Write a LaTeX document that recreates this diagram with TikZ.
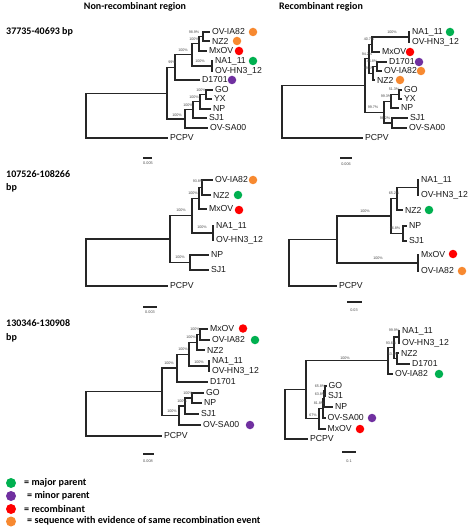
\documentclass[tikz,border=0pt]{standalone}
\usepackage{fontspec}
\setmainfont{Liberation Sans}
\newfontfamily\hdrfont{Carlito}
\definecolor{mgreen}{RGB}{0,176,80}
\definecolor{mpurple}{RGB}{112,48,160}
\definecolor{mred}{RGB}{255,0,0}
\definecolor{morange}{RGB}{247,137,48}
\newcommand\lf[2]{\node[leaf] (#1l) at (#1) {#2};}
\newcommand\bsl[4]{\node[bs] (#1) at (#2,#3) {#4};}
\newcommand\tbr[2]{\draw[br] (#1) |- (#2);}
\begin{document}
\begin{tikzpicture}[x=1pt,y=-1pt,
  br/.style={line width=1.05pt,draw=black!85},
  leaf/.style={anchor=west,xshift=1pt,inner sep=0.8pt,font=\fontsize{8.7}{9}\selectfont,text=black!90},
  bs/.style={inner sep=0pt,font=\fontsize{3.7}{4}\selectfont,text=black!70},
  sbar/.style={line width=1.1pt,draw=black!85},
  stxt/.style={inner sep=0pt,font=\fontsize{3.8}{4}\selectfont,text=black!70},
  hdr/.style={inner sep=0pt,font=\hdrfont\bfseries\fontsize{10}{12}\selectfont},
  reg/.style={anchor=west,inner sep=0pt,font=\hdrfont\bfseries\fontsize{10}{12}\selectfont},
  dot/.style={circle,inner sep=0pt,minimum size=8.5pt},
  ldot/.style={circle,inner sep=0pt,minimum size=10pt},
  ltxt/.style={anchor=west,inner sep=0pt,font=\hdrfont\bfseries\fontsize{10.1}{12}\selectfont}]
\useasboundingbox (0,0) rectangle (474,529);
\fill[white] (0,0) rectangle (474,529);

% headers
\node[hdr] (h1) at (135,7) {Non-recombinant region};
\node[hdr] (h2) at (321,7) {Recombinant region};
\node[reg] (r1) at (6,32) {37735-40693 bp};
\node[reg] (r2a) at (6,174) {107526-108266};
\node[reg] (r2b) at (6,188) {bp};
\node[reg] (r3a) at (6,323) {130346-130908};
\node[reg] (r3b) at (6,338) {bp};

% ================= Tree 1 (top left)
\coordinate (a-ia) at (210,32);
\coordinate (a-nz) at (210,41);
\coordinate (a-mx) at (207,51);
\coordinate (a-na) at (213,61);
\coordinate (a-hn) at (213,71);
\coordinate (a-d) at (200,80);
\coordinate (a-go) at (213,90);
\coordinate (a-yx) at (212,99);
\coordinate (a-np) at (211,109);
\coordinate (a-sj) at (207,118);
\coordinate (a-sa) at (208,128);
\coordinate (a-pc) at (168,138);
\coordinate (aF) at (203,36.5);
\coordinate (aE) at (199,43.75);
\coordinate (aNA) at (212,66);
\coordinate (aC) at (192,54.9);
\coordinate (aA) at (175,67.4);
\coordinate (aO) at (206,94.5);
\coordinate (aN) at (200,101.7);
\coordinate (aM) at (193,109.9);
\coordinate (aL) at (185,119);
\coordinate (aI) at (167,93.2);
\coordinate (aR) at (86,115.6);
\tbr{aR}{aI}\tbr{aR}{a-pc}
\tbr{aI}{aA}\tbr{aI}{aL}
\tbr{aA}{aC}\tbr{aA}{a-d}
\tbr{aC}{aE}\tbr{aC}{aNA}
\tbr{aE}{aF}\tbr{aE}{a-mx}
\tbr{aF}{a-ia}\tbr{aF}{a-nz}
\tbr{aNA}{a-na}\tbr{aNA}{a-hn}
\tbr{aL}{aM}\tbr{aL}{a-sa}
\tbr{aM}{aN}\tbr{aM}{a-sj}
\tbr{aN}{aO}\tbr{aN}{a-np}
\tbr{aO}{a-go}\tbr{aO}{a-yx}
\lf{a-ia}{OV-IA82}\lf{a-nz}{NZ2}\lf{a-mx}{MxOV}\lf{a-na}{NA1\_11}
\lf{a-hn}{OV-HN3\_12}\lf{a-d}{D1701}\lf{a-go}{GO}\lf{a-yx}{YX}
\lf{a-np}{NP}\lf{a-sj}{SJ1}\lf{a-sa}{OV-SA00}\lf{a-pc}{PCPV}
\bsl{ab1}{194}{32}{98.9\%}
\bsl{ab2}{194}{39}{100\%}
\bsl{ab3}{183}{50}{100\%}
\bsl{ab4}{200}{61}{100\%}
\bsl{ab5}{172}{62.5}{99\%}
\bsl{ab6}{201}{90}{100\%}
\bsl{ab7}{194}{97}{100\%}
\bsl{ab8}{188}{105.5}{100\%}
\bsl{ab9}{177}{115}{100\%}
\node[dot,fill=morange] (ad1) at (253,32) {};
\node[dot,fill=morange] (ad2) at (237,41) {};
\node[dot,fill=mred] (ad3) at (239,51) {};
\node[dot,fill=mgreen] (ad4) at (253,61) {};
\node[dot,fill=mpurple] (ad5) at (232,80) {};
\coordinate (as1) at (143,158); \coordinate (as2) at (152,158);
\draw[sbar] (as1) -- (as2);
\node[stxt] (ast) at (148,163) {0.005};

% ================= Tree 2 (top right)
\coordinate (b-na) at (410,32);
\coordinate (b-hn) at (410,42);
\coordinate (b-mx) at (380,52);
\coordinate (b-d) at (387,62);
\coordinate (b-ia) at (382,71);
\coordinate (b-nz) at (375,80);
\coordinate (b-go) at (402,90);
\coordinate (b-yx) at (402,99);
\coordinate (b-np) at (399,108);
\coordinate (b-sj) at (408,118);
\coordinate (b-sa) at (407,128);
\coordinate (b-pc) at (363,138);
\coordinate (bNA) at (409,37);
\coordinate (bU2) at (372,44.5);
\coordinate (bU4) at (377,66.5);
\coordinate (bU3) at (373,73.25);
\coordinate (bU1) at (369,58.9);
\coordinate (bGY) at (399,94.5);
\coordinate (bM) at (391,101.25);
\coordinate (bP) at (392,123);
\coordinate (bL) at (384,112.1);
\coordinate (bI) at (365,85.5);
\coordinate (bR) at (282,111.75);
\tbr{bR}{bI}\tbr{bR}{b-pc}
\tbr{bI}{bU1}\tbr{bI}{bL}
\tbr{bU1}{bU2}\tbr{bU1}{bU3}
\tbr{bU2}{bNA}\tbr{bU2}{b-mx}
\tbr{bNA}{b-na}\tbr{bNA}{b-hn}
\tbr{bU3}{bU4}\tbr{bU3}{b-nz}
\tbr{bU4}{b-d}\tbr{bU4}{b-ia}
\tbr{bL}{bM}\tbr{bL}{bP}
\tbr{bM}{bGY}\tbr{bM}{b-np}
\tbr{bGY}{b-go}\tbr{bGY}{b-yx}
\tbr{bP}{b-sj}\tbr{bP}{b-sa}
\lf{b-na}{NA1\_11}\lf{b-hn}{OV-HN3\_12}\lf{b-mx}{MxOV}\lf{b-d}{D1701}
\lf{b-ia}{OV-IA82}\lf{b-nz}{NZ2}\lf{b-go}{GO}\lf{b-yx}{YX}
\lf{b-np}{NP}\lf{b-sj}{SJ1}\lf{b-sa}{OV-SA00}\lf{b-pc}{PCPV}
\bsl{bb1}{392}{32.5}{100\%}
\bsl{bb2}{369}{39}{40.7\%}
\bsl{bb3}{367}{54}{94.2\%}
\bsl{bb4}{372}{61}{45.8\%}
\bsl{bb5}{369}{68.5}{89.5\%}
\bsl{bb6}{394}{89}{51.3\%}
\bsl{bb7}{386}{96.5}{99.3\%}
\bsl{bb8}{385}{118.5}{98.2\%}
\bsl{bb9}{373}{107}{99.7\%}
\node[dot,fill=mgreen] (bd1) at (450,32) {};
\node[dot,fill=mred] (bd2) at (410,52) {};
\node[dot,fill=mpurple] (bd3) at (419,62) {};
\node[dot,fill=morange] (bd4) at (421,71) {};
\node[dot,fill=morange] (bd5) at (400,80) {};
\coordinate (bs1) at (340,158); \coordinate (bs2) at (352,158);
\draw[sbar] (bs1) -- (bs2);
\node[stxt] (bst) at (346,164) {0.006};

% ================= Tree 3 (middle left)
\coordinate (c-ia) at (213,180);
\coordinate (c-nz) at (211,195);
\coordinate (c-mx) at (207,209);
\coordinate (c-na) at (214,226);
\coordinate (c-hn) at (214,240);
\coordinate (c-np) at (209,255);
\coordinate (c-sj) at (209,270);
\coordinate (c-pc) at (168,286);
\coordinate (cF) at (202,187.5);
\coordinate (cE) at (199,198.25);
\coordinate (cNA) at (213,233);
\coordinate (cC) at (192,215.6);
\coordinate (cL) at (190,262.5);
\coordinate (cI) at (170,239);
\coordinate (cR) at (86,262.5);
\tbr{cR}{cI}\tbr{cR}{c-pc}
\tbr{cI}{cC}\tbr{cI}{cL}
\tbr{cC}{cE}\tbr{cC}{cNA}
\tbr{cE}{cF}\tbr{cE}{c-mx}
\tbr{cF}{c-ia}\tbr{cF}{c-nz}
\tbr{cNA}{c-na}\tbr{cNA}{c-hn}
\tbr{cL}{c-np}\tbr{cL}{c-sj}
\lf{c-ia}{OV-IA82}\lf{c-nz}{NZ2}\lf{c-mx}{MxOV}\lf{c-na}{NA1\_11}
\lf{c-hn}{OV-HN3\_12}\lf{c-np}{NP}\lf{c-sj}{SJ1}\lf{c-pc}{PCPV}
\bsl{cb1}{198}{181.5}{93.8\%}
\bsl{cb2}{193}{193}{100\%}
\bsl{cb3}{181}{210.5}{100\%}
\bsl{cb4}{202}{227.5}{100\%}
\bsl{cb5}{180}{257.5}{100\%}
\node[dot,fill=morange] (cd1) at (253,180) {};
\node[dot,fill=mgreen] (cd2) at (238,195) {};
\node[dot,fill=mred] (cd3) at (239,210) {};
\coordinate (cs1) at (143,307); \coordinate (cs2) at (157,307);
\draw[sbar] (cs1) -- (cs2);
\node[stxt] (cst) at (150,312) {0.003};

% ================= Tree 4 (middle right)
\coordinate (d-na) at (419,180);
\coordinate (d-hn) at (419,195);
\coordinate (d-nz) at (403,210);
\coordinate (d-np) at (407,226);
\coordinate (d-sj) at (407,241);
\coordinate (d-mx) at (419,255);
\coordinate (d-ia) at (419,271);
\coordinate (d-pc) at (337,286);
\coordinate (dNA) at (418,187.5);
\coordinate (dU) at (397,198.75);
\coordinate (dNS) at (403,233.5);
\coordinate (dC) at (391,216);
\coordinate (dL) at (418,263);
\coordinate (dI) at (337,239.5);
\coordinate (dR) at (289,262.75);
\tbr{dR}{dI}\tbr{dR}{d-pc}
\tbr{dI}{dC}\tbr{dI}{dL}
\tbr{dC}{dU}\tbr{dC}{dNS}
\tbr{dU}{dNA}\tbr{dU}{d-nz}
\tbr{dNA}{d-na}\tbr{dNA}{d-hn}
\tbr{dNS}{d-np}\tbr{dNS}{d-sj}
\tbr{dL}{d-mx}\tbr{dL}{d-ia}
\lf{d-na}{NA1\_11}\lf{d-hn}{OV-HN3\_12}\lf{d-nz}{NZ2}\lf{d-np}{NP}
\lf{d-sj}{SJ1}\lf{d-mx}{MxOV}\lf{d-ia}{OV-IA82}\lf{d-pc}{PCPV}
\bsl{db1}{394}{193.5}{65.2\%}
\bsl{db2}{395}{228}{96.8\%}
\bsl{db3}{365}{211}{100\%}
\bsl{db4}{378}{258}{100\%}
\node[dot,fill=mgreen] (dd1) at (429,210) {};
\node[dot,fill=mred] (dd2) at (453,254) {};
\node[dot,fill=morange] (dd3) at (462,271) {};
\coordinate (ds1) at (347,302); \coordinate (ds2) at (362,302);
\draw[sbar] (ds1) -- (ds2);
\node[stxt] (dst) at (354,310.5) {0.03};

% ================= Tree 5 (bottom left)
\coordinate (e-mx) at (208,329);
\coordinate (e-ia) at (210,340);
\coordinate (e-nz) at (205,350);
\coordinate (e-na) at (210,361);
\coordinate (e-hn) at (210,371);
\coordinate (e-d) at (208,382);
\coordinate (e-go) at (204,393);
\coordinate (e-np) at (202,403);
\coordinate (e-sj) at (199,414);
\coordinate (e-sa) at (201,425);
\coordinate (e-pc) at (162,436);
\coordinate (eF) at (200,334.5);
\coordinate (eE) at (197,342.25);
\coordinate (eNA) at (209,366);
\coordinate (eC) at (189,354.1);
\coordinate (eA) at (177,368);
\coordinate (eO) at (192,398);
\coordinate (eM) at (185,406);
\coordinate (eL) at (179,415.5);
\coordinate (eI) at (162,391.75);
\coordinate (eR) at (86,413.9);
\tbr{eR}{eI}\tbr{eR}{e-pc}
\tbr{eI}{eA}\tbr{eI}{eL}
\tbr{eA}{eC}\tbr{eA}{e-d}
\tbr{eC}{eE}\tbr{eC}{eNA}
\tbr{eE}{eF}\tbr{eE}{e-nz}
\tbr{eF}{e-mx}\tbr{eF}{e-ia}
\tbr{eNA}{e-na}\tbr{eNA}{e-hn}
\tbr{eL}{eM}\tbr{eL}{e-sa}
\tbr{eM}{eO}\tbr{eM}{e-sj}
\tbr{eO}{e-go}\tbr{eO}{e-np}
\lf{e-mx}{MxOV}\lf{e-ia}{OV-IA82}\lf{e-nz}{NZ2}\lf{e-na}{NA1\_11}
\lf{e-hn}{OV-HN3\_12}\lf{e-d}{D1701}\lf{e-go}{GO}\lf{e-np}{NP}
\lf{e-sj}{SJ1}\lf{e-sa}{OV-SA00}\lf{e-pc}{PCPV}
\bsl{eb1}{195}{329.5}{100\%}
\bsl{eb2}{191}{337.5}{100\%}
\bsl{eb3}{183}{349.5}{100\%}
\bsl{eb4}{199}{362}{100\%}
\bsl{eb5}{169}{363.5}{100\%}
\bsl{eb6}{188}{393}{100\%}
\bsl{eb7}{182}{401.5}{100\%}
\bsl{eb8}{172}{411}{100\%}
\node[dot,fill=mred] (ed1) at (243,328.5) {};
\node[dot,fill=mgreen] (ed2) at (255,340) {};
\node[dot,fill=mpurple] (ed3) at (250,425) {};
\coordinate (es1) at (143,454); \coordinate (es2) at (154,454);
\draw[sbar] (es1) -- (es2);
\node[stxt] (est) at (148,461) {0.008};

% ================= Tree 6 (bottom right)
\coordinate (f-na) at (400,331);
\coordinate (f-hn) at (400,343);
\coordinate (f-nz) at (399,353);
\coordinate (f-d) at (410,364);
\coordinate (f-ia) at (393,374);
\coordinate (f-go) at (326.5,386);
\coordinate (f-sj) at (326,396);
\coordinate (f-np) at (333,407);
\coordinate (f-sa) at (325.5,418);
\coordinate (f-mx) at (325.5,429);
\coordinate (f-pc) at (308,439);
\coordinate (fY) at (399,337);
\coordinate (fZ) at (397,358.5);
\coordinate (fX) at (394,347.75);
\coordinate (fC) at (388,360.9);
\coordinate (fGS) at (325,391);
\coordinate (fT) at (324,399);
\coordinate (fS) at (323,408.5);
\coordinate (fL) at (319,418.75);
\coordinate (fI) at (306,389.8);
\coordinate (fR) at (285,414.4);
\tbr{fR}{fI}\tbr{fR}{f-pc}
\tbr{fI}{fC}\tbr{fI}{fL}
\tbr{fC}{fX}\tbr{fC}{f-ia}
\tbr{fX}{fY}\tbr{fX}{fZ}
\tbr{fY}{f-na}\tbr{fY}{f-hn}
\tbr{fZ}{f-nz}\tbr{fZ}{f-d}
\tbr{fL}{fS}\tbr{fL}{f-mx}
\tbr{fS}{fT}\tbr{fS}{f-sa}
\tbr{fT}{fGS}\tbr{fT}{f-np}
\tbr{fGS}{f-go}\tbr{fGS}{f-sj}
\lf{f-na}{NA1\_11}\lf{f-hn}{OV-HN3\_12}\lf{f-nz}{NZ2}\lf{f-d}{D1701}
\lf{f-ia}{OV-IA82}\lf{f-go}{GO}\lf{f-sj}{SJ1}\lf{f-np}{NP}
\lf{f-sa}{OV-SA00}\lf{f-mx}{MxOV}\lf{f-pc}{PCPV}
\bsl{fb1}{394}{330}{99.9\%}
\bsl{fb2}{391}{343}{93.6\%}
\bsl{fb3}{393}{354}{53.8\%}
\bsl{fb4}{345}{358}{100\%}
\bsl{fb5}{320}{386}{65.8\%}
\bsl{fb6}{320}{394}{63.8\%}
\bsl{fb7}{319}{403}{81.8\%}
\bsl{fb8}{313}{415}{67\%}
\node[dot,fill=mgreen] (fd1) at (439,374) {};
\node[dot,fill=mpurple] (fd2) at (372,418) {};
\node[dot,fill=mred] (fd3) at (360,429) {};
\coordinate (fs1) at (342,452); \coordinate (fs2) at (356,452);
\draw[sbar] (fs1) -- (fs2);
\node[stxt] (fst) at (349,461) {0.1};

% ================= Legend
\node[ldot,fill=mgreen] (lg1) at (11,483) {};
\node[ldot,fill=mpurple] (lg2) at (11,496) {};
\node[ldot,fill=mred] (lg3) at (11,509) {};
\node[ldot,fill=morange] (lg4) at (11,521.5) {};
\node[ltxt] (lt1) at (24,483) {= major parent};
\node[ltxt] (lt2) at (27,496) {= minor parent};
\node[ltxt] (lt3) at (24,509) {= recombinant};
\node[ltxt] (lt4) at (27,521) {= sequence with evidence of same recombination event};
\end{tikzpicture}
\end{document}
